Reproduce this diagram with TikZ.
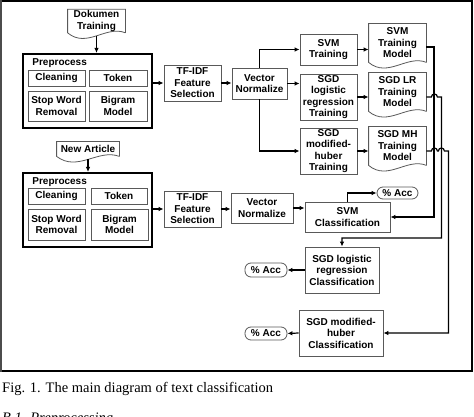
\documentclass[tikz,border=0pt]{standalone}
\usepackage{fontspec}
\setmainfont{Liberation Serif}
\newfontfamily\diagfont{Liberation Sans}
\usetikzlibrary{arrows.meta,calc,positioning}

\definecolor{edge}{gray}{0.35}

\tikzset{
  box/.style={draw=edge, line width=0.8pt, fill=white, align=center, inner sep=1pt,
    font=\diagfont\bfseries\fontsize{10}{11.5}\selectfont},
  lbl/.style={box, draw=none, fill=none, anchor=west},
  grp/.style={draw, line width=2pt, inner sep=0pt},
  doc/.style={box, draw=none},
  docline/.style={draw=edge, line width=0.8pt},
  acc/.style={box, rounded corners=6pt},
  arr/.style={-{Latex[length=5pt,width=4.5pt]}, line width=1.2pt},
}

% document symbol round a node: straight top and sides, wavy bottom
\newcommand{\docshape}[1]{%
  \draw[docline] (#1.south east) -- (#1.north east) -- (#1.north west) -- (#1.south west)
    .. controls ($(#1.south west)!1/3!(#1.south east)+(0,-16pt)$)
    and ($(#1.south west)!2/3!(#1.south east)+(0,8pt)$) .. (#1.south east);}

\begin{document}
\begin{tikzpicture}[x=1pt,y=-1pt]
  \useasboundingbox (0,0) rectangle (474,417);

  % frame
  \draw[line width=2.4pt] (1.2,1.2) rectangle (471.8,371);
  \draw[line width=2.4pt, gray!60!black] (1.2,0) -- (1.2,372);

  % training branch
  \node[doc, minimum width=57pt, minimum height=22pt] (dokumen) at (96.5,21) {Dokumen\\Training};
  \node[grp, minimum width=129pt, minimum height=74pt] (preA) at (87.5,91) {};
  \node[lbl] (preAlabel) at (31,63) {Preprocess};
  \node[box, minimum width=57pt, minimum height=16pt] (cleanA) at (56.5,78) {Cleaning};
  \node[box, minimum width=58pt, minimum height=16pt] (tokenA) at (118,78) {Token};
  \node[box, minimum width=57pt, minimum height=30pt] (stopA) at (56.5,106) {Stop Word\\Removal};
  \node[box, minimum width=58pt, minimum height=30pt] (bigramA) at (118,106) {Bigram\\Model};
  \node[box, minimum width=57pt, minimum height=36pt] (tfidfA) at (192.5,83) {TF-IDF\\Feature\\Selection};
  \node[box, minimum width=55pt, minimum height=31pt] (vectorA) at (259.5,83.5) {Vector\\Normalize};
  \node[box, minimum width=57pt, minimum height=31pt] (svmTrain) at (328.5,49.5) {SVM\\Training};
  \node[box, minimum width=57pt, minimum height=46pt] (lrTrain) at (328.5,97) {SGD\\logistic\\regression\\Training};
  \node[box, minimum width=57pt, minimum height=46pt] (mhTrain) at (328.5,151) {SGD\\modified-\\huber\\Training};
  \node[doc, minimum width=57pt, minimum height=38pt] (svmModel) at (397.5,43) {SVM\\Training\\Model};
  \node[doc, minimum width=57pt, minimum height=38pt] (lrModel) at (397.5,92) {SGD LR\\Training\\Model};
  \node[doc, minimum width=57pt, minimum height=38pt] (mhModel) at (397.5,146) {SGD MH\\Training\\Model};

  % testing branch
  \node[doc, minimum width=62pt, minimum height=14pt] (article) at (88,149) {New Article};
  \node[grp, minimum width=129pt, minimum height=74pt] (preB) at (87.5,210) {};
  \node[lbl] (preBlabel) at (31,182) {Preprocess};
  \node[box, minimum width=57pt, minimum height=16pt] (cleanB) at (56.5,196) {Cleaning};
  \node[box, minimum width=56pt, minimum height=16pt] (tokenB) at (119,196) {Token};
  \node[box, minimum width=57pt, minimum height=31pt] (stopB) at (56.5,224.5) {Stop Word\\Removal};
  \node[box, minimum width=57pt, minimum height=31pt] (bigramB) at (119.5,224.5) {Bigram\\Model};
  \node[box, minimum width=57pt, minimum height=36pt] (tfidfB) at (192.5,209) {TF-IDF\\Feature\\Selection};
  \node[box, minimum width=62pt, minimum height=30pt] (vectorB) at (262,208) {Vector\\Normalize};
  \node[box, minimum width=85pt, minimum height=30pt] (svmClass) at (347.5,217) {SVM\\Classification};
  \node[acc, minimum width=41pt, minimum height=12pt] (accSvm) at (397.5,193) {\% Acc};
  \node[box, minimum width=74pt, minimum height=46pt] (lrClass) at (342,270) {SGD logistic\\regression\\Classification};
  \node[acc, minimum width=42pt, minimum height=14pt] (accLr) at (266,270) {\% Acc};
  \node[box, minimum width=84pt, minimum height=46pt] (mhClass) at (341,333) {SGD modified-\\huber\\Classification};
  \node[acc, minimum width=42pt, minimum height=13pt] (accMh) at (266,333.5) {\% Acc};

  \docshape{dokumen}
  \docshape{svmModel}
  \docshape{lrModel}
  \docshape{mhModel}
  \docshape{article}

  \coordinate (jSvm) at (434,217);
  \coordinate (jLr) at (342,238);

  % training connectors
  \draw[arr] ([yshift=-3pt]dokumen.south) -- (dokumen.south |- preA.north);
  \draw[arr] (preA.east |- tfidfA.west) -- (tfidfA.west);
  \draw[arr] (tfidfA.east) -- (tfidfA.east -| vectorA.west);
  \draw[arr] (vectorA.north) |- (svmTrain.west);
  \draw[arr] (vectorA.east) -- (vectorA.east -| lrTrain.west);
  \draw[arr] (vectorA.south) |- (mhTrain.west);
  \draw[arr] (svmTrain.east) -- (svmTrain.east -| svmModel.west);
  \draw[arr] (lrTrain.east) -- (lrTrain.east -| lrModel.west);
  \draw[arr] (mhTrain.east) -- (mhTrain.east -| mhModel.west);

  % models to classifiers, with hops over the crossed lines
  \draw[arr] ([yshift=-4pt]svmModel.east) -| (jSvm) -- (svmClass.east);
  \draw[arr] (lrModel.east |- lrTrain.east) -- ++(5,0)
    arc[start angle=180, end angle=360, radius=3] -- ++(4,0) |- (jLr) -- (lrClass.north);
  \draw[arr] (mhModel.east |- mhTrain.east) -- ++(5,0)
    arc[start angle=180, end angle=360, radius=3] -- ++(1,0)
    arc[start angle=180, end angle=360, radius=3] -- ++(4,0) |- (mhClass.east);

  % testing connectors
  \draw[arr] ([yshift=-3pt]article.south) -- (article.south |- preB.north);
  \draw[arr] (preB.east |- tfidfB.west) -- (tfidfB.west);
  \draw[arr] (tfidfB.east) -- (tfidfB.east -| vectorB.west);
  \draw[arr] (vectorB.east) -- (vectorB.east -| svmClass.west);
  \draw[arr] (svmClass.north) |- (accSvm.west);
  \draw[arr] (lrClass.west) -- (accLr.east);
  \draw[arr] (mhClass.west) -- (accMh.east);

  % caption
  \node[anchor=base west, inner sep=0pt, font=\fontsize{14.5}{17}\selectfont] (caption)
    at (2,392.5) {Fig. 1. The main diagram of text classification};
  \node[anchor=base west, inner sep=0pt, font=\itshape\fontsize{14.5}{17}\selectfont] (section)
    at (2,422.5) {B.1. Preprocessing};
\end{tikzpicture}
\end{document}
